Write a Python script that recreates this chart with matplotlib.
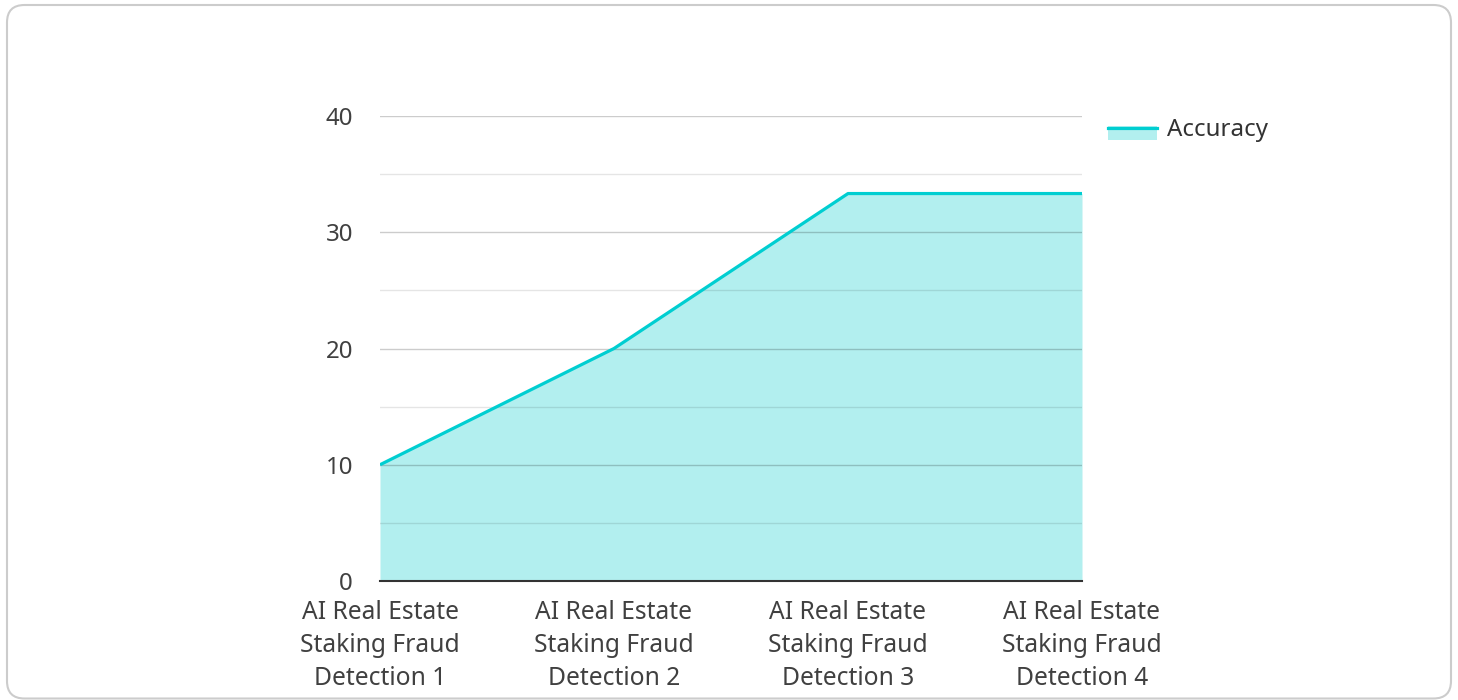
import matplotlib
matplotlib.use("Agg")
import matplotlib.pyplot as plt
from matplotlib.patches import FancyBboxPatch, Rectangle
from matplotlib.lines import Line2D
import numpy as np

plt.rcParams['font.family'] = ['Noto Sans', 'DejaVu Sans']

categories = ["AI Real Estate\nStaking Fraud\nDetection 1",
              "AI Real Estate\nStaking Fraud\nDetection 2",
              "AI Real Estate\nStaking Fraud\nDetection 3",
              "AI Real Estate\nStaking Fraud\nDetection 4"]
accuracy = [10, 20, 33.33, 33.33]
series_name = "Accuracy"
y_ticks = [0, 10, 20, 30, 40]

line_color = "#00CED1"
fill_color = "#B2EFEF"

fig = plt.figure(figsize=(14.58, 7.0), dpi=100)
W, H = 1458, 700

# rounded card border
border = FancyBboxPatch((7 / W, 1.5 / H), 1444 / W, 693.5 / H,
                        boxstyle="round,pad=0,rounding_size=0.012",
                        transform=fig.transFigure, facecolor="none",
                        edgecolor="#cccccc", linewidth=1.5,
                        mutation_aspect=W / H, zorder=-1)
fig.patches.append(border)

ax = fig.add_axes([380 / W, 1 - 581 / H, 702 / W, 465 / H])
ax.set_facecolor("none")
x = np.arange(len(categories))
ax.fill_between(x, accuracy, 0, color=fill_color, linewidth=0, zorder=1)
ax.plot(x, accuracy, color=line_color, linewidth=2.3, zorder=3,
        solid_capstyle="butt")

ax.set_xlim(0, len(categories) - 1)
ax.set_ylim(0, 40)
ax.set_yticks(y_ticks)
ax.set_yticks([5, 15, 25, 35], minor=True)
ax.set_xticks(x)
ax.set_xticklabels(categories, linespacing=1.43, fontsize=17.7)
ax.grid(axis="y", which="major", color="#000000", alpha=0.2, linewidth=1, zorder=2)
ax.grid(axis="y", which="minor", color="#000000", alpha=0.1, linewidth=1, zorder=2)
ax.set_axisbelow(False)
for s in ["top", "right", "left"]:
    ax.spines[s].set_visible(False)
ax.spines["bottom"].set_color("#333333")
ax.spines["bottom"].set_linewidth(1.5)
ax.spines["bottom"].set_zorder(4)
ax.tick_params(axis="both", which="both", length=0, labelcolor="#404040")
ax.tick_params(axis="y", pad=19.5, labelsize=17.3)
ax.tick_params(axis="x", pad=13.5)

# legend
fig.add_artist(Rectangle((1108 / W, 1 - 140 / H), 49 / W, 14 / H,
                         transform=fig.transFigure, facecolor=fill_color, edgecolor="none"))
fig.add_artist(Line2D([1108 / W, 1157 / W], [1 - 127.5 / H, 1 - 127.5 / H],
                      transform=fig.transFigure, color=line_color, linewidth=2.3))
fig.text(1167 / W, 1 - 129.5 / H, series_name, fontsize=17.3, color="#333333",
         va="center", ha="left")

fig.savefig("out.png", dpi=100)
